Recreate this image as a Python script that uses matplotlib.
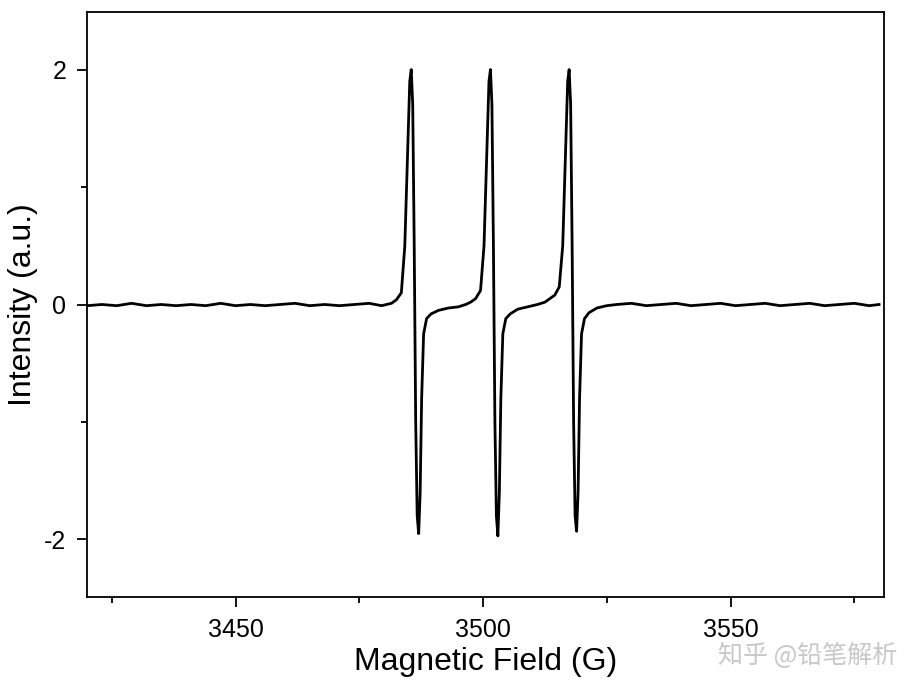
import matplotlib
matplotlib.use("Agg")
import matplotlib.pyplot as plt
from matplotlib.ticker import MultipleLocator

# values
field = [
    3420, 3423, 3426, 3429, 3432, 3435, 3438, 3441, 3444, 3447, 3450, 3453,
    3456, 3459, 3462, 3465, 3468, 3471, 3474, 3477, 3479.5, 3481.5,
    3482.5, 3483.5, 3484.2, 3484.7, 3485.2, 3485.5, 3485.8, 3486.1, 3486.4,
    3486.7, 3487.0, 3487.3, 3487.6, 3488.0, 3488.6, 3489.5, 3491.0, 3493.0,
    3495.0, 3496.5, 3497.5,
    3498.5, 3499.5, 3500.2, 3500.7, 3501.2, 3501.5, 3501.8, 3502.1, 3502.4,
    3502.7, 3503.0, 3503.3, 3503.6, 3504.0, 3504.6, 3505.5, 3507.0, 3509.0,
    3511.0, 3512.5, 3513.5,
    3514.5, 3515.4, 3516.1, 3516.6, 3517.1, 3517.4, 3517.7, 3518.0, 3518.3,
    3518.6, 3518.9, 3519.2, 3519.5, 3519.9, 3520.5, 3521.4, 3523.0, 3525.0,
    3527.0, 3530, 3533, 3536, 3539, 3542, 3545, 3548, 3551, 3554, 3557,
    3560, 3563, 3566, 3569, 3572, 3575, 3578, 3580,
]
intensity = [
    -0.01, 0.00, -0.01, 0.01, -0.01, 0.00, -0.01, 0.00, -0.01, 0.01, -0.01, 0.00,
    -0.01, 0.00, 0.01, -0.01, 0.00, -0.01, 0.00, 0.01, -0.01, 0.01,
    0.04, 0.10, 0.50, 1.20, 1.90, 2.00, 1.70, 0.50, -1.00,
    -1.80, -1.95, -1.60, -0.80, -0.25, -0.12, -0.08, -0.05, -0.03,
    -0.02, 0.00, 0.02,
    0.05, 0.12, 0.50, 1.20, 1.90, 2.00, 1.70, 0.50, -1.00,
    -1.80, -1.97, -1.60, -0.80, -0.25, -0.12, -0.08, -0.04, -0.02,
    0.00, 0.02, 0.05,
    0.08, 0.15, 0.50, 1.20, 1.90, 2.00, 1.70, 0.50, -1.00,
    -1.80, -1.93, -1.60, -0.80, -0.25, -0.12, -0.07, -0.03, -0.01,
    0.00, 0.01, -0.01, 0.00, 0.01, -0.01, 0.00, 0.01, -0.01, 0.00, 0.01,
    -0.01, 0.00, 0.01, -0.01, 0.00, 0.01, -0.01, 0.00,
]

plt.rcParams["font.family"] = ["Liberation Sans", "DejaVu Sans"]
plt.rcParams["axes.unicode_minus"] = False

fig = plt.figure(figsize=(9.2, 6.91), dpi=100)
ax = fig.add_axes([87 / 920, 94 / 691, 797 / 920, 585 / 691])
ax.plot(field, intensity, color="black", lw=2)
ax.set_xlim(3420, 3581)
ax.set_ylim(-2.49, 2.49)
ax.xaxis.set_major_locator(MultipleLocator(50))
ax.xaxis.set_minor_locator(MultipleLocator(25))
ax.yaxis.set_major_locator(MultipleLocator(2))
ax.yaxis.set_minor_locator(MultipleLocator(1))
ax.tick_params(which="major", direction="out", length=7, width=1.3, labelsize=18, pad=8)
ax.tick_params(which="minor", direction="out", length=4, width=1.3)
for s in ax.spines.values():
    s.set_linewidth(1.3)
ax.set_xlabel("Magnetic Field (G)", fontsize=23, labelpad=4)
ax.set_ylabel("Intensity (a.u.)", fontsize=23, labelpad=4)
fig.text(0.975, 0.04, "知乎 @铅笔解析", fontsize=18, color="#c8c8c8", ha="right",
         family=["Noto Sans CJK SC", "DejaVu Sans"])
fig.savefig("out.png", dpi=100)
